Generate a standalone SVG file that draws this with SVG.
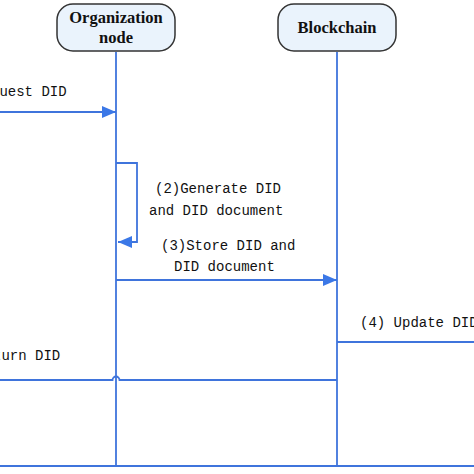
<svg xmlns="http://www.w3.org/2000/svg" width="474" height="474" viewBox="0 0 474 474">
<defs>
<style>
.box{fill:#eaf3fc;stroke:#333;stroke-width:1.5}
.title{font-family:"Liberation Serif",serif;font-weight:bold;font-size:16.5px;fill:#111;text-anchor:middle}
.ln{fill:none;stroke:#3f74dc;stroke-width:1.8}
.lbl{font-family:"Liberation Mono",monospace;font-size:14px;fill:#111}
</style>
<marker id="ah" viewBox="0 0 14 12" refX="14" refY="6" markerWidth="14" markerHeight="12" markerUnits="userSpaceOnUse" orient="auto">
<path d="M0,0 L14,6 L0,12 Z" fill="#3b78e7"/>
</marker>
</defs>
<rect width="474" height="474" fill="#fff"/>
<g id="connectors">
<line class="ln" x1="116" y1="52" x2="116" y2="466"/>
<line class="ln" x1="337" y1="52" x2="337" y2="465"/>
<line class="ln" x1="0" y1="112" x2="116" y2="112" marker-end="url(#ah)"/>
<path class="ln" d="M116,163 H137 V242 H118" marker-end="url(#ah)"/>
<line class="ln" x1="116" y1="280" x2="337" y2="280" marker-end="url(#ah)"/>
<line class="ln" x1="337" y1="342" x2="474" y2="342"/>
<path class="ln" d="M0,380 H112.5 A3.5,3.5 0 0 1 119.5,380 H337"/>
<line class="ln" x1="0" y1="466" x2="474" y2="466"/>
</g>
<g id="org-node">
<rect class="box" x="57" y="4" width="118" height="47" rx="16"/>
<text class="title" x="116" y="23">Organization</text>
<text class="title" x="116" y="43">node</text>
</g>
<g id="blockchain-node">
<rect class="box" x="278" y="4" width="118" height="47" rx="16"/>
<text class="title" x="337" y="33">Blockchain</text>
</g>
<g id="labels">
<text class="lbl" x="-51" y="96">(1)Request DID</text>
<text class="lbl" x="155" y="193">(2)Generate DID</text>
<text class="lbl" x="149" y="215">and DID document</text>
<text class="lbl" x="161" y="250">(3)Store DID and</text>
<text class="lbl" x="174" y="271">DID document</text>
<text class="lbl" x="360" y="327">(4) Update DID</text>
<text class="lbl" x="-49" y="360">(5)Return DID</text>
</g>
</svg>
